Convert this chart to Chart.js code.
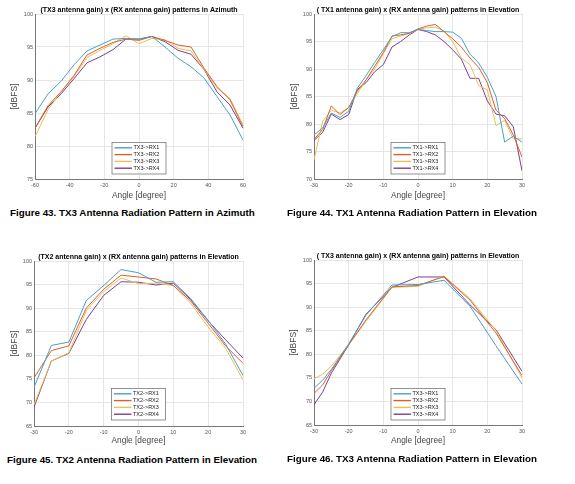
<!DOCTYPE html>
<html>
<head>
  <title>Antenna Radiation Patterns</title>
  <meta charset="utf-8" />
  <script src="https://cdn.jsdelivr.net/npm/chart.js"></script>
  <style>
    body {
      margin: 0;
      background: #fff;
      font-family: "Liberation Sans", Arial, sans-serif;
    }
    #page {
      position: relative;
      width: 575px;
      height: 484px;
      overflow: hidden;
    }
    .box { position: absolute; }
    .cap {
      position: absolute;
      font-weight: bold;
      font-size: 9.8px;
      line-height: 12px;
      color: #000;
      white-space: nowrap;
    }
  </style>
</head>
<body>
<div id="page">
  <div class="box" style="left:0;top:0;width:287px;height:201px"><canvas id="c1"></canvas></div>
  <div class="box" style="left:285px;top:0;width:290px;height:201px"><canvas id="c2"></canvas></div>
  <div class="box" style="left:0;top:247px;width:287px;height:199px"><canvas id="c3"></canvas></div>
  <div class="box" style="left:285px;top:246px;width:290px;height:200px"><canvas id="c4"></canvas></div>

  <div class="cap" style="left:10px;top:207px">Figure 43. TX3 Antenna Radiation Pattern in Azimuth</div>
  <div class="cap" style="left:287px;top:207px">Figure 44. TX1 Antenna Radiation Pattern in Elevation</div>
  <div class="cap" style="left:7px;top:454px">Figure 45. TX2 Antenna Radiation Pattern in Elevation</div>
  <div class="cap" style="left:287px;top:453px">Figure 46. TX3 Antenna Radiation Pattern in Elevation</div>
</div>

<script>
  // colours of RX1..RX4
  const colors = ['#4a9fca', '#d9622b', '#ecbf55', '#7e3f8f'];

  // Figure 43: TX3, azimuth
  const az = [-60, -52.5, -45, -37.5, -30, -22.5, -15, -7.5, 0, 7.5, 15, 22.5, 30, 37.5, 45, 52.5, 60];
  const tx3az_rx1 = [84.9, 87.9, 89.8, 92.3, 94.4, 95.3, 96.2, 96.3, 96.2, 96.6, 95.0, 93.3, 92.0, 90.3, 87.5, 84.7, 80.9];
  const tx3az_rx2 = [82.7, 86.1, 88.2, 90.7, 93.8, 94.8, 95.7, 96.2, 96.0, 96.6, 96.0, 95.3, 95.0, 91.8, 89.0, 87.0, 82.9];
  const tx3az_rx3 = [81.4, 85.5, 88.2, 90.5, 93.4, 94.5, 95.5, 96.7, 95.5, 96.3, 96.1, 94.8, 94.4, 91.6, 88.8, 87.2, 83.2];
  const tx3az_rx4 = [82.7, 85.9, 87.9, 90.2, 92.6, 93.5, 94.6, 96.2, 96.2, 96.6, 95.8, 94.5, 93.9, 91.6, 88.2, 86.2, 82.7];

  // Figure 44: TX1, elevation
  const el1 = [-30, -27.5, -25, -22.5, -20, -17.5, -15, -12.5, -10, -7.5, -5, -2.5, 0,
               2.5, 5, 7.5, 10, 12.5, 15, 17.5, 20, 22.5, 25, 27.5, 30];
  const tx1_rx1 = [78.0, 79.3, 82.0, 81.2, 82.3, 86.5, 88.8, 91.2, 93.5, 95.9, 96.6, 96.6, 97.2,
                   97.0, 96.8, 96.8, 96.7, 95.6, 92.7, 91.1, 88.5, 85.0, 76.7, 77.8, 76.7];
  const tx1_rx2 = [77.2, 79.0, 83.3, 81.7, 83.0, 86.0, 88.0, 90.5, 93.0, 96.0, 96.2, 96.5, 97.3,
                   97.8, 98.1, 96.8, 95.5, 94.0, 92.0, 90.3, 87.5, 82.5, 81.0, 78.0, 74.0];
  const tx1_rx3 = [73.5, 80.5, 82.5, 82.0, 83.0, 85.5, 88.0, 90.0, 92.8, 95.5, 96.0, 96.5, 97.2,
                   97.5, 97.6, 96.9, 95.0, 92.0, 90.8, 87.0, 86.2, 79.7, 80.7, 77.3, 77.3];
  const tx1_rx4 = [77.0, 78.5, 81.8, 80.8, 81.7, 86.3, 87.5, 89.5, 90.8, 94.0, 95.0, 96.2, 97.2,
                   96.8, 96.2, 95.0, 93.5, 91.8, 88.3, 88.3, 84.2, 81.8, 81.5, 79.5, 71.5];

  // Figure 45: TX2, elevation
  const el2 = [-30, -25, -20, -15, -10, -5, 0, 5, 10, 15, 20, 25, 30];
  const tx2_rx1 = [73.2, 82.1, 82.8, 91.6, 94.8, 98.2, 97.5, 95.5, 95.6, 92.0, 87.4, 82.4, 75.7];
  const tx2_rx2 = [75.2, 81.0, 82.0, 90.0, 94.0, 97.0, 96.6, 96.2, 94.8, 91.5, 86.8, 82.0, 78.3];
  const tx2_rx3 = [69.5, 78.8, 80.5, 89.5, 93.5, 96.4, 95.2, 95.3, 94.8, 91.0, 86.0, 81.5, 74.8];
  const tx2_rx4 = [69.0, 78.8, 80.4, 87.6, 92.7, 95.6, 95.5, 94.9, 95.3, 91.8, 87.3, 83.3, 79.4];

  // Figure 46: TX3, elevation
  const el3 = [-30, -27.5, -25, -20, -15, -7.5, 0, 7.5, 15, 22.5, 30];
  const tx3el_rx1 = [72.8, 74.5, 76.8, 82.2, 88.3, 94.7, 94.8, 95.7, 90.2, 81.8, 73.7];
  const tx3el_rx2 = [71.7, 73.5, 76.5, 82.0, 87.3, 94.3, 94.6, 96.5, 91.5, 84.5, 75.5];
  const tx3el_rx3 = [74.8, 75.8, 77.5, 82.0, 87.0, 94.2, 94.4, 96.6, 91.8, 85.0, 75.0];
  const tx3el_rx4 = [69.3, 72.0, 76.0, 82.0, 88.5, 94.2, 96.4, 96.4, 90.5, 85.2, 76.4];

  const FONT = '"Liberation Sans", Arial, sans-serif';

  // boxed legend sitting inside the plot, bottom centre
  const boxLegend = {
    id: 'boxLegend',
    afterDatasetsDraw(chart, args, opts) {
      const ctx = chart.ctx, a = chart.chartArea;
      const w = 54, h = 31.5;
      const x0 = (a.left + a.right) / 2 - w / 2;
      const y0 = a.bottom - opts.gap - h;
      ctx.save();
      ctx.fillStyle = '#fff';
      ctx.fillRect(x0, y0, w, h);
      ctx.strokeStyle = '#666';
      ctx.lineWidth = 0.7;
      ctx.strokeRect(x0, y0, w, h);
      ctx.font = '5.5px ' + FONT;
      ctx.textBaseline = 'middle';
      chart.data.datasets.forEach((ds, i) => {
        const y = y0 + 5.3 + i * 6.8;
        ctx.strokeStyle = ds.borderColor;
        ctx.lineWidth = 1.4;
        ctx.beginPath();
        ctx.moveTo(x0 + 2.5, y);
        ctx.lineTo(x0 + 20, y);
        ctx.stroke();
        ctx.fillStyle = '#222';
        ctx.fillText(ds.label, x0 + 21.5, y);
      });
      ctx.restore();
    }
  };

  function makeChart(id, c) {
    const datasets = c.series.map((s, i) => ({
      label: c.labels[i],
      data: c.x.map((a, j) => ({ x: a, y: s[j] })),
      borderColor: colors[i],
      backgroundColor: colors[i],
      borderWidth: 1,
      pointRadius: 0,
      tension: 0,
      fill: false
    }));

    return new Chart(document.getElementById(id), {
      type: 'line',
      data: { datasets: datasets },
      options: {
        animation: false,
        responsive: true,
        maintainAspectRatio: false,
        layout: { padding: { left: 0, right: c.padRight, top: 0, bottom: 0 } },
        plugins: {
          legend: { display: false },
          tooltip: { enabled: false },
          title: {
            display: true,
            text: c.title,
            fullSize: false,
            color: '#000',
            font: { family: FONT, size: 7, weight: 'bold' },
            padding: { top: 5.6, bottom: 0 }
          },
          boxLegend: { gap: c.legendGap }
        },
        scales: {
          x: {
            type: 'linear',
            min: c.xMin,
            max: c.xMax,
            ticks: { stepSize: c.xStep, padding: 3.5, color: '#555', font: { family: FONT, size: 5.5 } },
            grid: { color: '#e6e6e6', drawTicks: false },
            border: { color: '#777' },
            title: { display: true, text: 'Angle [degree]', color: '#444', font: { family: FONT, size: 8.3 }, padding: 0 },
            afterFit: s => { s.height = c.xH; }
          },
          y: {
            min: c.yMin,
            max: 100,
            ticks: { stepSize: 5, padding: 2, color: '#555', font: { family: FONT, size: 5.5 } },
            grid: { color: '#e6e6e6', drawTicks: false },
            border: { color: '#777' },
            title: { display: true, text: '[dBFS]', color: '#444', font: { family: FONT, size: 8.5 }, padding: { top: c.yTitlePad, bottom: 0 } },
            afterFit: s => { s.width = c.yW; }
          }
        }
      },
      plugins: [boxLegend]
    });
  }

  makeChart('c1', {
    title: '(TX3 antenna gain) x (RX antenna gain) patterns in Azimuth',
    labels: ['TX3->RX1', 'TX3->RX2', 'TX3->RX3', 'TX3->RX4'],
    x: az, series: [tx3az_rx1, tx3az_rx2, tx3az_rx3, tx3az_rx4],
    xMin: -60, xMax: 60, xStep: 20, yMin: 75,
    yW: 35, xH: 22, padRight: 44, yTitlePad: 9.5, legendGap: 5
  });

  makeChart('c2', {
    title: '( TX1 antenna gain) x (RX antenna gain) patterns in Elevation',
    labels: ['TX1->RX1', 'TX1->RX2', 'TX1->RX3', 'TX1->RX4'],
    x: el1, series: [tx1_rx1, tx1_rx2, tx1_rx3, tx1_rx4],
    xMin: -30, xMax: 30, xStep: 10, yMin: 70,
    yW: 29, xH: 22, padRight: 53, yTitlePad: 4.3, legendGap: 5
  });

  makeChart('c3', {
    title: '(TX2 antenna gain) x (RX antenna gain) patterns in Elevation',
    labels: ['TX2->RX1', 'TX2->RX2', 'TX2->RX3', 'TX2->RX4'],
    x: el2, series: [tx2_rx1, tx2_rx2, tx2_rx3, tx2_rx4],
    xMin: -30, xMax: 30, xStep: 10, yMin: 65,
    yW: 34, xH: 20, padRight: 44, yTitlePad: 9.5, legendGap: 6
  });

  makeChart('c4', {
    title: '( TX3 antenna gain) x (RX antenna gain) patterns in Elevation',
    labels: ['TX3->RX1', 'TX3->RX2', 'TX3->RX3', 'TX3->RX4'],
    x: el3, series: [tx3el_rx1, tx3el_rx2, tx3el_rx3, tx3el_rx4],
    xMin: -30, xMax: 30, xStep: 10, yMin: 65,
    yW: 29, xH: 21, padRight: 53, yTitlePad: 3.3, legendGap: 5
  });
</script>
</body>
</html>
